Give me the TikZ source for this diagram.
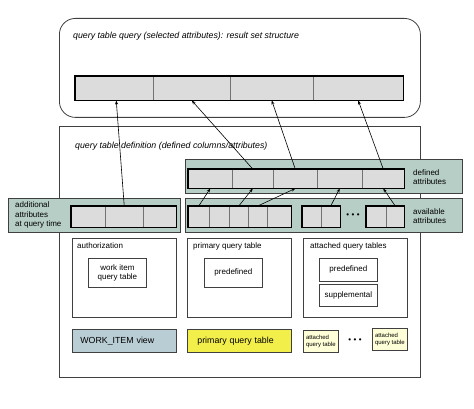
\documentclass[tikz,border=0pt]{standalone}
\usepackage{fontspec}
\setmainfont{Liberation Sans}
\usetikzlibrary{positioning,arrows.meta}

\definecolor{panelgreen}{HTML}{B6CEC6}
\definecolor{cellgray}{HTML}{DCDCDC}
\definecolor{viewblue}{HTML}{B9CDD5}
\definecolor{primyellow}{HTML}{F2EE4A}
\definecolor{attcream}{HTML}{FFFFD8}

\begin{document}
\begin{tikzpicture}[
    x=1pt, y=-1pt,
    every node/.style={font=\fontsize{8}{9.5}\selectfont, inner sep=0pt},
    frame/.style={draw=black!75, line width=0.8pt, anchor=north west},
    panel/.style={frame, fill=panelgreen},
    cell/.style={draw=black!55, line width=0.5pt, fill=cellgray, anchor=north west},
    bar/.style={draw=black, line width=1.6pt},
    legend/.style={frame, minimum height=23pt, inner xsep=8pt, text width=88pt, align=left, font=\fontsize{8.8}{10}\selectfont},
    tiny/.style={frame, fill=attcream, minimum width=35pt, minimum height=22pt, align=left, font=\fontsize{6}{6.8}\selectfont},
    dots/.style={font=\fontsize{8}{8}\selectfont},
    attr/.style={-{Stealth[length=4pt,width=3pt]}, line width=0.6pt}
]
    \useasboundingbox (0,0) rectangle (474,409);

    \node[frame, rounded corners=16pt, minimum width=361pt, minimum height=99pt] (result) at (59,18) {};
    \node[anchor=west, font=\fontsize{8.8}{10}\selectfont\itshape] (resulttitle) at (73,36) {query table query (selected attributes): result set structure};
    \foreach \a/\b [count=\i] in {75/153,153/230,230/313,313/403}
        \node[cell, minimum width={(\b-\a)*1pt}, minimum height=24pt] (r\i) at (\a,76) {};
    \draw[bar] (r1.north west) rectangle (r4.south east);

    \node[frame, minimum width=361pt, minimum height=251pt] (definition) at (59,126) {};
    \node[anchor=west, font=\fontsize{8.8}{10}\selectfont\itshape] (deftitle) at (75,146) {query table definition (defined columns/attributes)};

    \node[panel, minimum width=277pt, minimum height=34pt] (defpanel) at (185,159) {};
    \node[panel, minimum width=277pt, minimum height=34pt] (avpanel) at (185,198) {};
    \node[panel, minimum width=172pt, minimum height=34pt] (addpanel) at (8,198) {};

    \foreach \a/\b [count=\i] in {188/232,232/273,273/317,317/362,362/404}
        \node[cell, minimum width={(\b-\a)*1pt}, minimum height=19pt] (d\i) at (\a,169) {};
    \draw[bar] (d1.north west) rectangle (d5.south east);
    \node[anchor=west, align=left] (deflabel) at (413,177) {defined\\attributes};

    \foreach \a/\b [count=\i] in {188/209,209/229,229/248,248/267,267/291}
        \node[cell, minimum width={(\b-\a)*1pt}, minimum height=21pt] (a\i) at (\a,206) {};
    \draw[bar] (a1.north west) rectangle (a5.south east);
    \foreach \a/\b [count=\i] in {302/321,321/340}
        \node[cell, minimum width={(\b-\a)*1pt}, minimum height=21pt] (b\i) at (\a,206) {};
    \draw[bar] (b1.north west) rectangle (b2.south east);
    \node[dots] (avdots) at (353,216) {\textbullet\hspace{2.5pt}\textbullet\hspace{2.5pt}\textbullet};
    \foreach \a/\b [count=\i] in {366/386,386/404}
        \node[cell, minimum width={(\b-\a)*1pt}, minimum height=21pt] (c\i) at (\a,206) {};
    \draw[bar] (c1.north west) rectangle (c2.south east);
    \node[anchor=west, align=left] (avlabel) at (413,216) {available\\attributes};

    \foreach \a/\b [count=\i] in {71/105,105/143,143/176}
        \node[cell, minimum width={(\b-\a)*1pt}, minimum height=21pt] (q\i) at (\a,206) {};
    \draw[bar] (q1.north west) rectangle (q3.south east);
    \node[anchor=west, align=left] (addlabel) at (15,215) {additional\\attributes\\at query time};

    \node[frame, minimum width=104pt, minimum height=79pt] (auth) at (72,238) {};
    \node[below right=5pt and 5pt of auth.north west] (authtitle) {authorization};
    \node[frame, minimum width=58pt, minimum height=29pt, align=center] (wiqt) at (88,258) {work item\\query table};

    \node[frame, minimum width=104pt, minimum height=79pt] (prim) at (187,238) {};
    \node[below right=5pt and 6pt of prim.north west] (primtitle) {primary query table};
    \node[frame, minimum width=58pt, minimum height=29pt] (primpre) at (204,258) {predefined};

    \node[frame, minimum width=104pt, minimum height=79pt] (att) at (303,238) {};
    \node[below right=5pt and 7pt of att.north west] (atttitle) {attached query tables};
    \node[frame, minimum width=58pt, minimum height=23pt] (attpre) at (319,258) {predefined};
    \node[frame, minimum width=58pt, minimum height=22pt] (attsup) at (319,284) {supplemental};

    \node[legend, fill=viewblue] (viewkey) at (72,329) {WORK\_ITEM view};
    \node[legend, fill=primyellow, inner xsep=10pt, text width=84pt] (primkey) at (187,329) {primary query table};
    \node[tiny] (attkey1) at (303,330) {attached\\query table};
    \node[dots] (keydots) at (355,341) {\textbullet\hspace{2.5pt}\textbullet\hspace{2.5pt}\textbullet};
    \node[tiny] (attkey2) at (372,328) {attached\\query table};

    \draw[attr] (a1.north) -- (d1.south);
    \draw[attr] (a3.north) -- (d2.south);
    \draw[attr] (a4.north) -- (d3.south);
    \draw[attr] (b2.north) -- (d4.south);
    \draw[attr] (c2.north) -- (d5.south);

    \draw[attr] (q2.north) -- ([xshift=2pt]r1.south);
    \draw[attr] (d2.north) -- (r2.south);
    \draw[attr] (d3.north) -- (r3.south);
    \draw[attr] (d5.north) -- (r4.south);
\end{tikzpicture}
\end{document}
